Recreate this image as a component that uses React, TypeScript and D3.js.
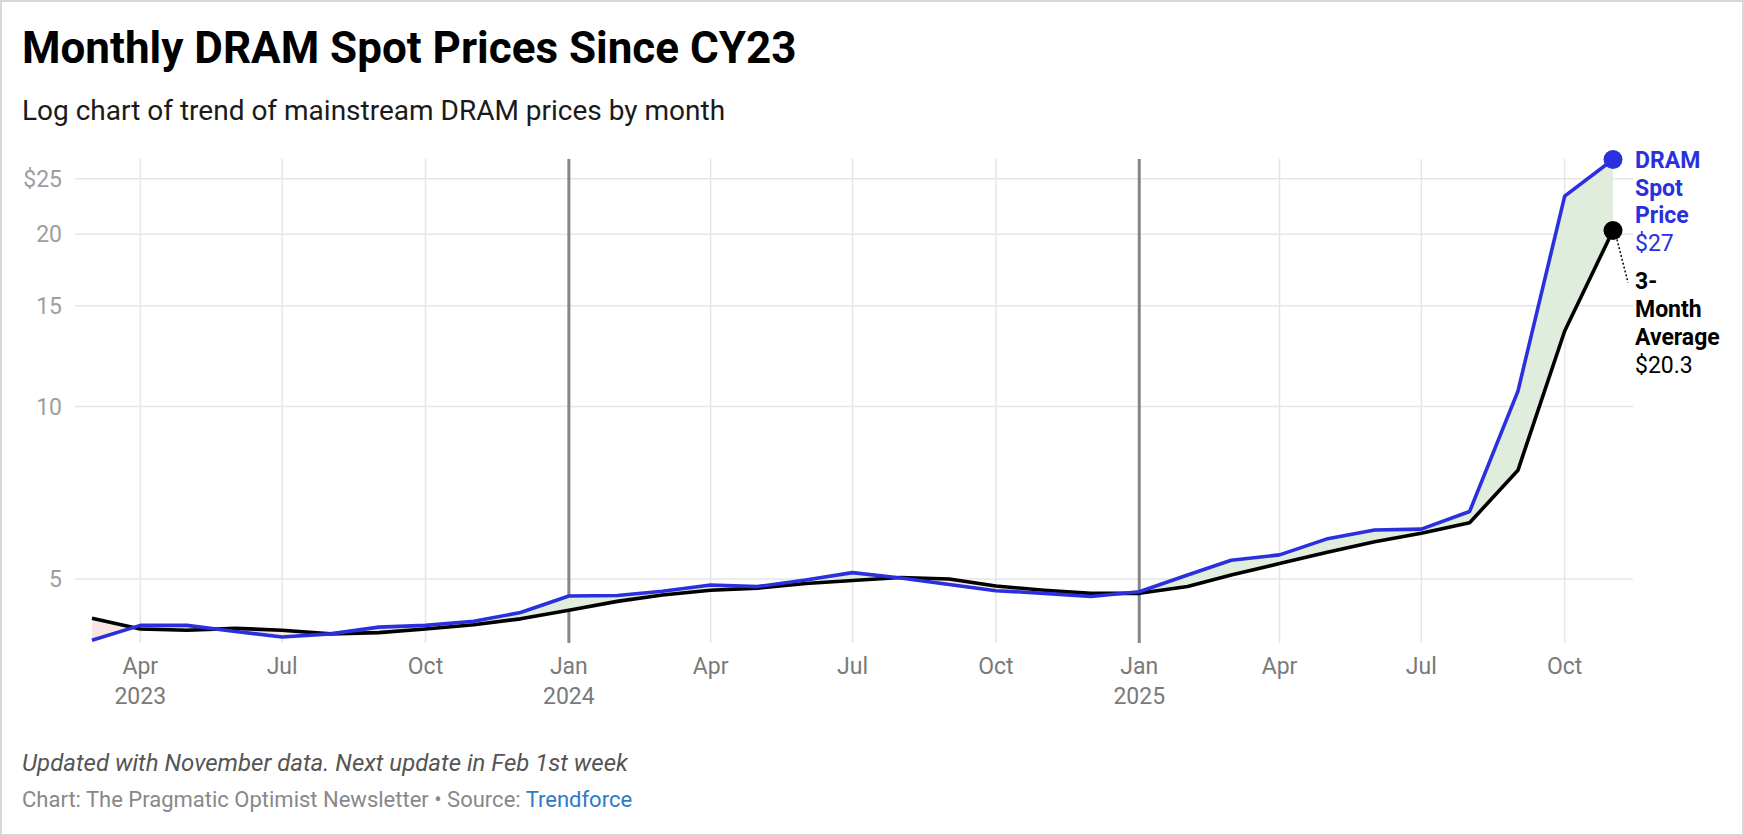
import React from 'react';
import * as d3 from 'd3';

// monthly observations, Mar 2023 .. Nov 2025
const months = [
  '2023-03', '2023-04', '2023-05', '2023-06', '2023-07', '2023-08', '2023-09', '2023-10', '2023-11', '2023-12',
  '2024-01', '2024-02', '2024-03', '2024-04', '2024-05', '2024-06', '2024-07', '2024-08', '2024-09', '2024-10', '2024-11', '2024-12',
  '2025-01', '2025-02', '2025-03', '2025-04', '2025-05', '2025-06', '2025-07', '2025-08', '2025-09', '2025-10', '2025-11',
];

const spotPrice = [
  3.91, 4.15, 4.15, 4.05, 3.96, 4.01, 4.12, 4.15, 4.22, 4.37,
  4.67, 4.68, 4.76, 4.88, 4.85, 4.98, 5.13, 5.02, 4.89, 4.77, 4.72, 4.66,
  4.75, 5.08, 5.39, 5.51, 5.87, 6.09, 6.11, 6.56, 10.64, 23.3, 27,
];

const avg3Month = [
  4.27, 4.09, 4.07, 4.1, 4.07, 4.01, 4.03, 4.09, 4.16, 4.26,
  4.41, 4.57, 4.69, 4.78, 4.82, 4.91, 4.97, 5.03, 5.0, 4.86, 4.78, 4.72,
  4.72, 4.85, 5.08, 5.32, 5.56, 5.81, 6.01, 6.27, 7.74, 13.55, 20.3,
];

const yTicks = [5, 10, 15, 20, 25];
const quarterTicks = ['2023-04', '2023-07', '2023-10', '2024-01', '2024-04', '2024-07', '2024-10', '2025-01', '2025-04', '2025-07', '2025-10'];

const spotLabel = ['DRAM', 'Spot', 'Price'];
const avgLabel = ['3-', 'Month', 'Average'];

const W = 1744;
const H = 836;
const FONT = 'Roboto, "Noto Sans", sans-serif';
const BLUE = '#2a30de';

const parse = d3.timeParse('%Y-%m');

type Row = { date: Date; spot: number; avg: number };

const rows: Row[] = months.map((m, i) => ({ date: parse(m) as Date, spot: spotPrice[i], avg: avg3Month[i] }));

const x = d3.scaleTime()
  .domain([parse('2023-03') as Date, parse('2025-11') as Date])
  .range([92, 1613]);

const y = d3.scaleLog().domain([5, 27]).range([579, 159.5]);

const gridLeft = 75;
const gridRight = 1633;
const gridTop = 159;
const gridBottom = 643;

export default function App() {
  const spotLine = d3.line<Row>().x(d => x(d.date)).y(d => y(d.spot));
  const avgLine = d3.line<Row>().x(d => x(d.date)).y(d => y(d.avg));
  const between = d3.area<Row>().x(d => x(d.date)).y0(d => y(d.avg)).y1(d => y(d.spot));
  const aboveAvg = d3.area<Row>().x(d => x(d.date)).y0(0).y1(d => y(d.avg));
  const belowAvg = d3.area<Row>().x(d => x(d.date)).y0(H).y1(d => y(d.avg));

  const last = rows[rows.length - 1];
  const lx = x(last.date);
  const spotY = y(last.spot);
  const avgY = y(last.avg);
  const fmtMonth = d3.timeFormat('%b');

  return (
    <div style={{ position: 'fixed', left: 0, top: 0 }}>
      <svg width={W} height={H} style={{ display: 'block', fontFamily: FONT }}>
        <rect x={1} y={1} width={W - 2} height={H - 2} fill="#fff" stroke="#d8d8d8" strokeWidth={2} />

        <text x={22} y={63} fontSize={44} fontWeight={700} fill="#000">Monthly DRAM Spot Prices Since CY23</text>
        <text x={22} y={120} fontSize={28} fill="#1a1a1a">Log chart of trend of mainstream DRAM prices by month</text>

        <defs>
          <clipPath id="clip-above"><path d={aboveAvg(rows) || ''} /></clipPath>
          <clipPath id="clip-below"><path d={belowAvg(rows) || ''} /></clipPath>
        </defs>

        {/* horizontal grid + y labels */}
        {yTicks.map(t => (
          <g key={t}>
            <line x1={gridLeft} x2={gridRight} y1={y(t)} y2={y(t)} stroke="#e6e6e6" strokeWidth={1.5} />
            <text x={62} y={y(t)} dy="0.36em" textAnchor="end" fontSize={23} fill="#9e9e9e">
              {t === 25 ? '$25' : t}
            </text>
          </g>
        ))}

        {/* vertical quarter grid, january lines darker */}
        {quarterTicks.map(q => {
          const d = parse(q) as Date;
          const isJan = d.getMonth() === 0;
          const px = x(d);
          return (
            <g key={q}>
              <line x1={px} x2={px} y1={gridTop} y2={gridBottom}
                stroke={isJan ? '#868686' : '#e6e6e6'} strokeWidth={isJan ? 3 : 1.5} />
              <text x={px} y={674} textAnchor="middle" fontSize={23} fill="#7a7a7a">{fmtMonth(d)}</text>
              {(isJan || q === '2023-04') && (
                <text x={px} y={704} textAnchor="middle" fontSize={23} fill="#7a7a7a">{d.getFullYear()}</text>
              )}
            </g>
          );
        })}

        {/* fill between spot and average */}
        <path d={between(rows) || ''} fill="#e0ecdc" clipPath="url(#clip-above)" />
        <path d={between(rows) || ''} fill="#fbe5e3" clipPath="url(#clip-below)" />

        <path d={avgLine(rows) || ''} fill="none" stroke="#000" strokeWidth={3.6} strokeLinejoin="round" />
        <path d={spotLine(rows) || ''} fill="none" stroke={BLUE} strokeWidth={3.6} strokeLinejoin="round" />

        <circle cx={lx} cy={spotY} r={9.5} fill={BLUE} />
        <circle cx={lx} cy={avgY} r={9.5} fill="#000" />

        <line x1={lx + 4} y1={avgY + 9} x2={lx + 15} y2={avgY + 52} stroke="#000" strokeWidth={1.5} strokeDasharray="2,2" />

        <g fontSize={23} fill={BLUE}>
          {spotLabel.map((s, i) => (
            <text key={s} x={lx + 22} y={spotY + 8.5 + i * 27.7} fontWeight={700}>{s}</text>
          ))}
          <text x={lx + 22} y={spotY + 8.5 + 3 * 27.7}>${last.spot}</text>
        </g>
        <g fontSize={23} fill="#000">
          {avgLabel.map((s, i) => (
            <text key={s} x={lx + 22} y={avgY + 59 + i * 27.7} fontWeight={700}>{s}</text>
          ))}
          <text x={lx + 22} y={avgY + 59 + 3 * 27.7}>${last.avg}</text>
        </g>

        <text x={22} y={771} fontSize={24} fontStyle="italic" fill="#555">
          Updated with November data. Next update in Feb 1st week
        </text>
        <text x={22} y={807} fontSize={22} fill="#888">
          Chart: The Pragmatic Optimist Newsletter • Source: <tspan fill="#2c7bc6">Trendforce</tspan>
        </text>
      </svg>
    </div>
  );
}
